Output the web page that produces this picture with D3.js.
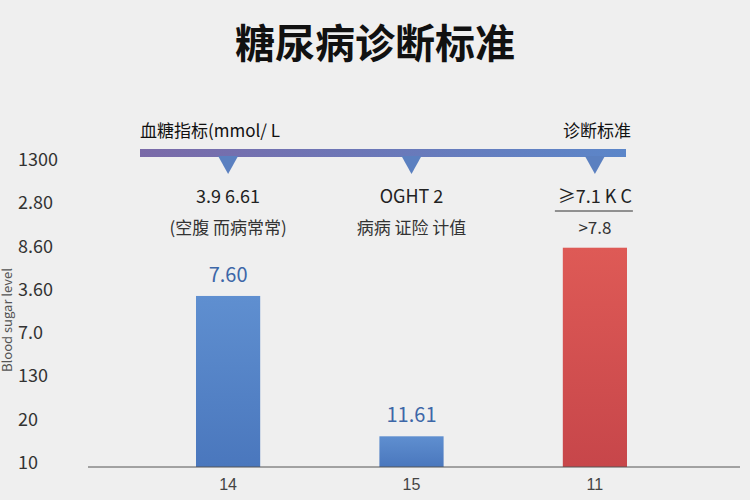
<!DOCTYPE html>
<html><head><meta charset="utf-8">
<script src="https://cdn.jsdelivr.net/npm/d3@7"></script>
<style>body{margin:0;background:#efefef;font-family:"Noto Sans CJK SC","Noto Sans",sans-serif}</style>
</head><body><svg id="c" width="750" height="500"></svg>
<script>
const categories=["14","15","11"];
const barValues=[7.8,1.4,10.0];
const barLabels=["7.60","11.61",""];
const barColors=["blue","blue","red"];
const yTickLabels=["1300","2.80","8.60","3.60","7.0","130","20","10"];
const topLines=["3.9 6.61","OGHT 2","≥7.1 K C"];
const subLines=["(空腹 而病常常)","病病 证险 计值",">7.8"];

const svg=d3.select("#c");
const defs=svg.append("defs");
const gb=defs.append("linearGradient").attr("id","gb").attr("x1",0).attr("x2",0).attr("y1",0).attr("y2",1);
gb.append("stop").attr("offset","0").attr("stop-color","#5f8fd0");
gb.append("stop").attr("offset","1").attr("stop-color","#4a77bd");
const gr=defs.append("linearGradient").attr("id","gr").attr("x1",0).attr("x2",0).attr("y1",0).attr("y2",1);
gr.append("stop").attr("offset","0").attr("stop-color","#de5a56");
gr.append("stop").attr("offset","1").attr("stop-color","#c7464a");
const gl=defs.append("linearGradient").attr("id","gl");
gl.append("stop").attr("offset","0").attr("stop-color","#7a6aa8");
gl.append("stop").attr("offset","1").attr("stop-color","#5b86c9");

svg.append("text").attr("x",375).attr("y",58).attr("text-anchor","middle")
 .attr("font-size",40).attr("font-weight","bold").attr("fill","#111").text("糖尿病诊断标准");

const x=d3.scaleBand().domain(categories).range([196,627]).paddingInner(0.65).paddingOuter(0);
const y=d3.scaleLinear().domain([0,14]).range([467,160]);
const yl=d3.scalePoint().domain(yTickLabels).range([160,463]);

svg.append("text").attr("x",140).attr("y",137).attr("font-size",17).attr("fill","#111").text("血糖指标(mmol/ L");
svg.append("text").attr("x",631).attr("y",137).attr("text-anchor","end").attr("font-size",17).attr("fill","#111").text("诊断标准");
svg.append("rect").attr("x",140).attr("y",149).attr("width",486).attr("height",8).attr("fill","url(#gl)");
categories.forEach((c,i)=>{
  const cx=x(c)+x.bandwidth()/2;
  svg.append("path").attr("d",`M${cx-10},156 L${cx+10},156 L${cx},174 Z`).attr("fill","#5b80c0");
  svg.append("text").attr("x",cx).attr("y",203).attr("text-anchor","middle").attr("font-size",18).attr("fill","#222").text(topLines[i]);
  svg.append("text").attr("x",cx).attr("y",234).attr("text-anchor","middle").attr("font-size",17).attr("fill","#333").text(subLines[i]);
});
const cx3=x(categories[2])+x.bandwidth()/2;
svg.append("line").attr("x1",cx3-40).attr("x2",cx3+38).attr("y1",211).attr("y2",211).attr("stroke","#333");

yTickLabels.forEach(t=>svg.append("text").attr("x",18).attr("y",yl(t)+6).attr("font-size",18).attr("fill","#333").text(t));
svg.append("text").attr("transform","translate(12,320) rotate(-90)").attr("text-anchor","middle")
 .attr("font-size",13).attr("fill","#555").text("Blood sugar level");

svg.selectAll("rect.bar").data(categories).enter().append("rect")
 .attr("x",d=>x(d)).attr("width",x.bandwidth())
 .attr("y",(d,i)=>y(barValues[i])).attr("height",(d,i)=>y(0)-y(barValues[i]))
 .attr("fill",(d,i)=>barColors[i]==="red"?"url(#gr)":"url(#gb)");
categories.forEach((c,i)=>{
  if(barLabels[i]) svg.append("text").attr("x",x(c)+x.bandwidth()/2).attr("y",y(barValues[i])-14)
   .attr("text-anchor","middle").attr("font-size",20).attr("fill","#3d67a8").text(barLabels[i]);
});

const ax=svg.append("g").attr("transform","translate(0,467)").call(d3.axisBottom(x).tickSize(0).tickPadding(12));
ax.select(".domain").attr("d","M88,0H740").attr("stroke","#555");
ax.selectAll("text").attr("font-size",16).attr("fill","#444");
</script></body></html>
